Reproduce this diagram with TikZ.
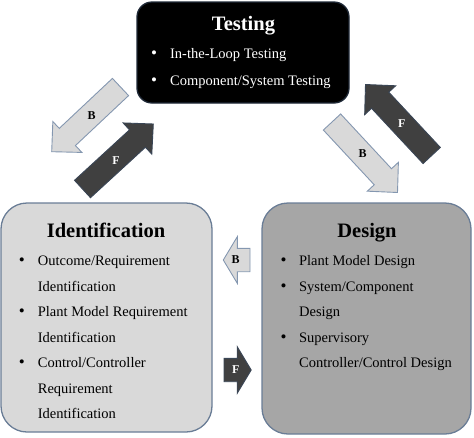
\documentclass[tikz,border=0pt]{standalone}
\usepackage{fontspec}
\setmainfont{Liberation Serif}
\usetikzlibrary{calc}
\definecolor{idfill}{HTML}{D9D9D9}
\definecolor{dsfill}{HTML}{A6A6A6}
\definecolor{boxline}{HTML}{6A7D96}
\definecolor{tsline}{HTML}{1F2937}
\definecolor{larrfill}{HTML}{D9D9D9}
\definecolor{larrline}{HTML}{8497B0}
\definecolor{darrfill}{HTML}{404040}
\definecolor{darrline}{HTML}{3A4656}
\newcommand{\blockarr}[6]{%
  \coordinate (#2-h) at ($(#3)!#6!(#2)$);
  \draw[#1] ($(#2)!#4!90:(#3)$) -- ($(#2-h)!#4!90:(#3)$) -- ($(#2-h)!#5!90:(#3)$) -- (#3)
    -- ($(#2-h)!#5!-90:(#3)$) -- ($(#2-h)!#4!-90:(#3)$) -- ($(#2)!#4!-90:(#3)$) -- cycle;
}
\newcommand{\bul}{{\fontsize{17}{17}\selectfont\textbullet}}
\tikzset{
  box/.style={draw, line width=1.3pt, inner sep=0pt, outer sep=0pt},
  title/.style={font=\fontsize{20.5}{24}\selectfont\bfseries, inner sep=0pt, anchor=base},
  items/.style={font=\fontsize{14.5}{25.5}\selectfont, inner sep=0pt, anchor=base west, align=left},
  larr/.style={fill=larrfill, draw=larrline, line width=0.9pt, line join=miter},
  darr/.style={fill=darrfill, draw=darrline, line width=0.9pt, line join=miter},
  lbl/.style={font=\fontsize{12}{13}\selectfont\bfseries, inner sep=0pt},
}
\begin{document}
\begin{tikzpicture}[x=1pt,y=-1pt]
\useasboundingbox (0,0) rectangle (474,437);
% boxes
\node[box, draw=tsline, fill=black, minimum width=212pt, minimum height=101pt, rounded corners=15pt] (testing) at (243,52.5) {};
\node[box, draw=boxline, fill=idfill, minimum width=211pt, minimum height=229pt, rounded corners=26pt] (ident) at (106.5,317.5) {};
\node[box, draw=boxline, fill=dsfill, minimum width=209pt, minimum height=231pt, rounded corners=26pt] (design) at (366.5,318.5) {};
% titles
\node[title, text=white] (ttest) at (243.5,30) {Testing};
\node[title] (tident) at (106,237) {Identification};
\node[title] (tdesign) at (367,237) {Design};
% item lists
\node[items, text=white] (ltest) at (151,58) {\fontsize{14.5}{27}\selectfont\begin{tabular}[t]{@{}l@{\hspace{13pt}}l@{}}
\bul & In-the-Loop Testing\\
\bul & Component/System Testing
\end{tabular}};
\node[items] (lident) at (18.7,265.6) {\begin{tabular}[t]{@{}l@{\hspace{13pt}}l@{}}
\bul & Outcome/Requirement\\
 & Identification\\
\bul & Plant Model Requirement\\
 & Identification\\
\bul & Control/Controller\\
 & Requirement\\
 & Identification
\end{tabular}};
\node[items] (ldesign) at (280.3,265.6) {\begin{tabular}[t]{@{}l@{\hspace{12.7pt}}l@{}}
\bul & Plant Model Design\\
\bul & System/Component\\
 & Design\\
\bul & Supervisory\\
 & Controller/Control Design
\end{tabular}};
% arrow end points
\coordinate (lbT) at (120.5,87);   \coordinate (lbP) at (51.7,151.7);
\coordinate (lfT) at (82.5,189);   \coordinate (lfP) at (153.3,124);
\coordinate (rfT) at (431.7,155.5); \coordinate (rfP) at (365.5,84.5);
\coordinate (rbT) at (332,122);    \coordinate (rbP) at (397.5,192.5);
\coordinate (hbT) at (250,260);    \coordinate (hbP) at (223.3,260);
\coordinate (hfT) at (224,370);    \coordinate (hfP) at (251.2,370);
% arrows
\blockarr{larr}{lbT}{lbP}{11.8pt}{21.2pt}{21.5pt}
\blockarr{darr}{lfT}{lfP}{11.8pt}{21.2pt}{21.5pt}
\blockarr{darr}{rfT}{rfP}{11.8pt}{21.2pt}{21.5pt}
\blockarr{larr}{rbT}{rbP}{11.8pt}{21.2pt}{21.5pt}
\blockarr{larr}{hbT}{hbP}{11.7pt}{23.3pt}{14pt}
\blockarr{darr}{hfT}{hfP}{11.7pt}{23.3pt}{14pt}
% arrow labels
\node[lbl] (blb) at (91.7,116) {B};
\node[lbl, text=white] (blf) at (116,160.7) {F};
\node[lbl, text=white] (brf) at (401.7,123.3) {F};
\node[lbl] (brb) at (362.7,153.3) {B};
\node[lbl] (bhb) at (235.7,260) {B};
\node[lbl, text=white] (bhf) at (235.7,370) {F};
\end{tikzpicture}
\end{document}
